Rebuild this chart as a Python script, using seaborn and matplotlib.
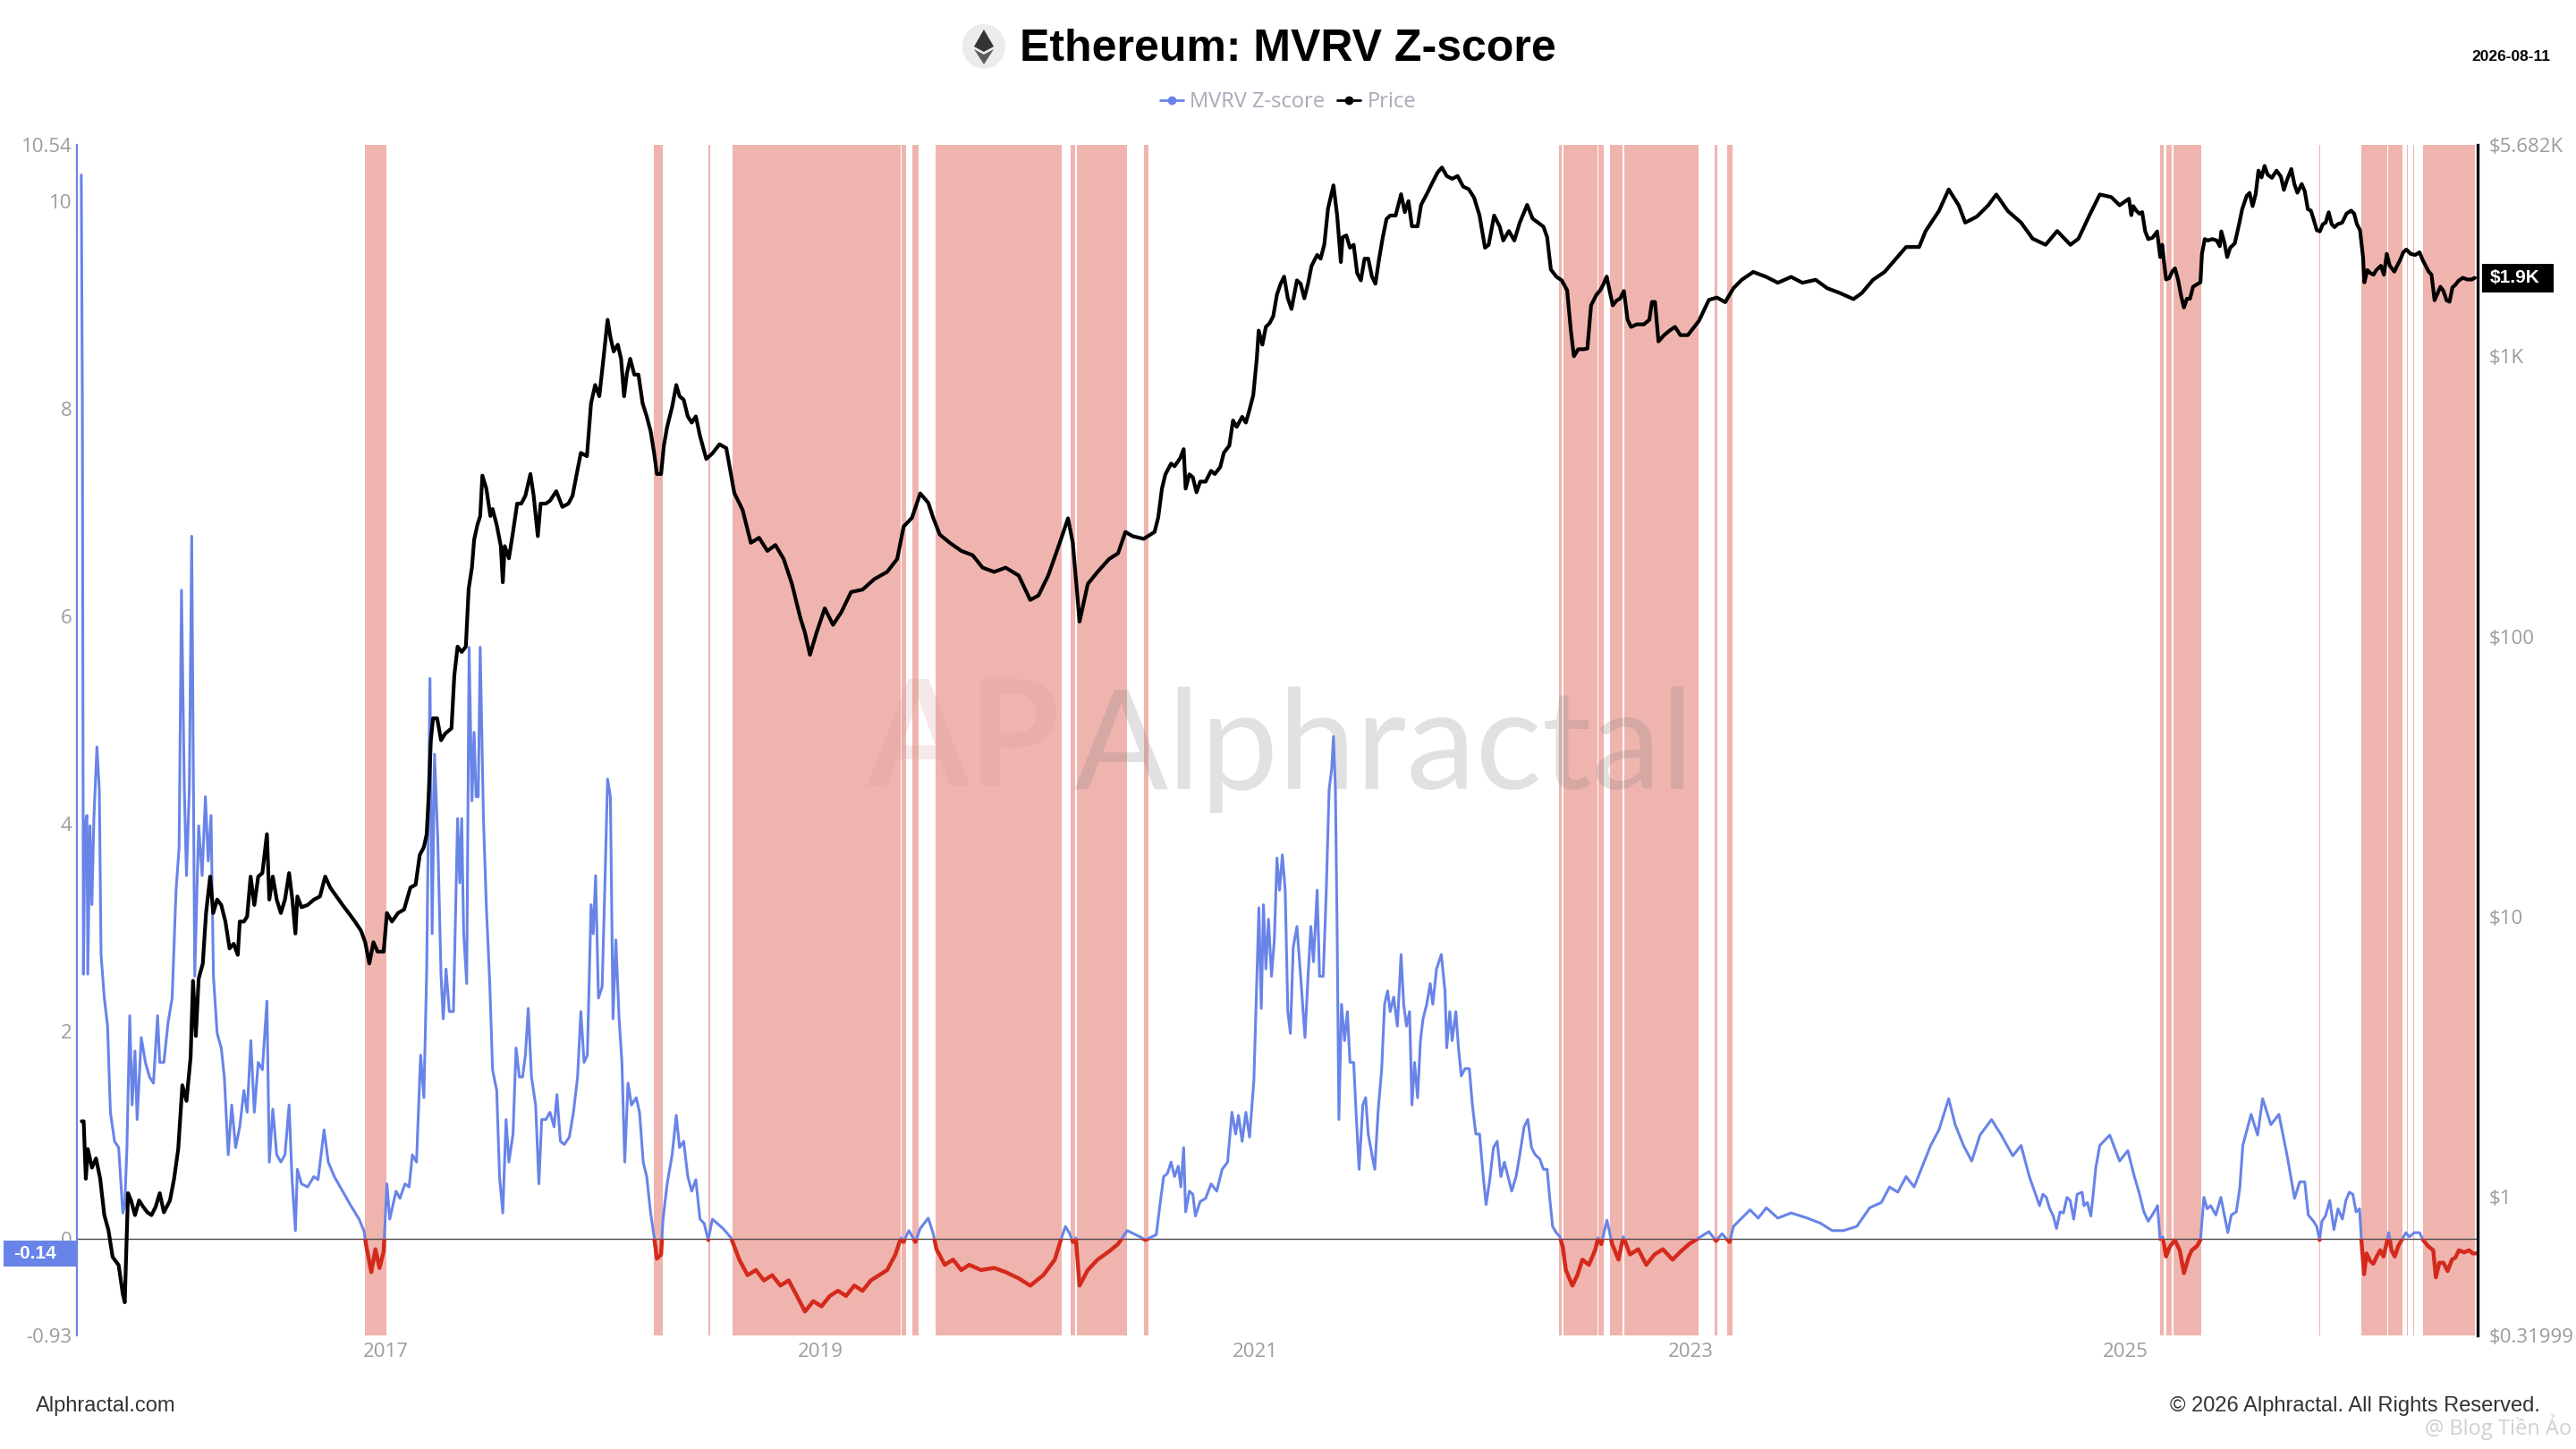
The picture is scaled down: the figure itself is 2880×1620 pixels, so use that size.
import numpy as np
import pandas as pd
import matplotlib
matplotlib.use("Agg")
import matplotlib.pyplot as plt
import seaborn as sns
from matplotlib.lines import Line2D
from matplotlib.patches import Rectangle, Ellipse, Polygon
from matplotlib.ticker import NullLocator

# MVRV Z-score (decimal year, value)
mvrv_year = [
    2015.598, 2015.603, 2015.608, 2015.615, 2015.624, 2015.628, 2015.638, 2015.647, 2015.656, 2015.670,
    2015.681, 2015.689, 2015.704, 2015.719, 2015.732, 2015.751, 2015.770, 2015.789, 2015.798, 2015.808,
    2015.821, 2015.832, 2015.845, 2015.855, 2015.874, 2015.893, 2015.912, 2015.930, 2015.949, 2015.959,
    2015.978, 2015.997, 2016.016, 2016.034, 2016.048, 2016.059, 2016.072, 2016.082, 2016.095, 2016.106,
    2016.120, 2016.138, 2016.154, 2016.169, 2016.182, 2016.195, 2016.206, 2016.223, 2016.242, 2016.256,
    2016.274, 2016.290, 2016.308, 2016.327, 2016.346, 2016.361, 2016.378, 2016.394, 2016.412, 2016.431,
    2016.452, 2016.463, 2016.479, 2016.497, 2016.516, 2016.535, 2016.554, 2016.567, 2016.583, 2016.592,
    2016.611, 2016.639, 2016.668, 2016.687, 2016.715, 2016.734, 2016.762, 2016.800, 2016.838, 2016.876,
    2016.898, 2016.910, 2016.932, 2016.951, 2016.970, 2016.989, 2017.004,
    2017.017, 2017.046, 2017.064, 2017.087, 2017.106, 2017.121, 2017.140, 2017.159, 2017.174, 2017.187,
    2017.202, 2017.212, 2017.223, 2017.238, 2017.253, 2017.263, 2017.276, 2017.291, 2017.310, 2017.329,
    2017.339, 2017.348, 2017.357, 2017.371, 2017.382, 2017.395, 2017.405, 2017.414, 2017.424, 2017.433,
    2017.448, 2017.461, 2017.477, 2017.490, 2017.509, 2017.522, 2017.537, 2017.552, 2017.565, 2017.584,
    2017.598, 2017.613, 2017.628, 2017.641, 2017.654, 2017.669, 2017.688, 2017.703, 2017.716, 2017.735,
    2017.754, 2017.773, 2017.786, 2017.802, 2017.820, 2017.843, 2017.862, 2017.881, 2017.896, 2017.911,
    2017.926, 2017.943, 2017.953, 2017.964, 2017.977, 2017.994, 2018.006, 2018.019, 2018.032, 2018.044,
    2018.057, 2018.072, 2018.085, 2018.098, 2018.113, 2018.129, 2018.151, 2018.166, 2018.183, 2018.199,
    2018.217, 2018.233, 2018.246, 2018.265, 2018.274, 2018.293, 2018.316, 2018.335, 2018.350, 2018.369,
    2018.388, 2018.406, 2018.425, 2018.444, 2018.463, 2018.482, 2018.501,
    2018.550, 2018.587, 2018.625, 2018.663, 2018.701, 2018.738, 2018.776, 2018.814, 2018.852, 2018.890,
    2018.927, 2018.965, 2019.003, 2019.041, 2019.079, 2019.116, 2019.154, 2019.192, 2019.230, 2019.268,
    2019.305, 2019.343, 2019.362, 2019.369, 2019.380, 2019.405, 2019.435, 2019.457, 2019.494, 2019.517,
    2019.532, 2019.570, 2019.608, 2019.646, 2019.683, 2019.736, 2019.797, 2019.850, 2019.910, 2019.963,
    2020.023, 2020.076, 2020.104, 2020.125, 2020.145, 2020.160, 2020.173, 2020.190, 2020.228, 2020.273,
    2020.326, 2020.367,
    2020.409, 2020.468, 2020.493, 2020.543, 2020.560, 2020.577, 2020.594, 2020.611, 2020.627, 2020.644,
    2020.656, 2020.669, 2020.678, 2020.695, 2020.711, 2020.723, 2020.745, 2020.770, 2020.795, 2020.821,
    2020.846, 2020.871, 2020.891, 2020.908, 2020.921, 2020.938, 2020.955, 2020.972, 2020.992, 2021.005,
    2021.015, 2021.026, 2021.036, 2021.047, 2021.059, 2021.073, 2021.086, 2021.098, 2021.110, 2021.123,
    2021.136, 2021.148, 2021.160, 2021.173, 2021.190, 2021.207, 2021.227, 2021.241, 2021.254, 2021.266,
    2021.283, 2021.294, 2021.311, 2021.325, 2021.338, 2021.350, 2021.358, 2021.367, 2021.375, 2021.383,
    2021.395, 2021.409, 2021.422, 2021.434, 2021.451, 2021.462, 2021.476, 2021.493, 2021.506, 2021.518,
    2021.535, 2021.548, 2021.563, 2021.580, 2021.593, 2021.607, 2021.619, 2021.635, 2021.652, 2021.669,
    2021.681, 2021.694, 2021.708, 2021.719, 2021.731, 2021.745, 2021.758, 2021.770, 2021.787, 2021.803,
    2021.815, 2021.832, 2021.854, 2021.871, 2021.879, 2021.893, 2021.904, 2021.921, 2021.933, 2021.946,
    2021.963, 2021.983, 2021.997, 2022.013, 2022.030, 2022.047, 2022.060, 2022.077, 2022.094, 2022.111,
    2022.128, 2022.144, 2022.161, 2022.178, 2022.198, 2022.215, 2022.235, 2022.252, 2022.269, 2022.286,
    2022.307, 2022.324, 2022.341, 2022.353, 2022.366, 2022.383, 2022.400,
    2022.413, 2022.427, 2022.457, 2022.480, 2022.503, 2022.533, 2022.563, 2022.575, 2022.590, 2022.616,
    2022.640, 2022.669, 2022.691, 2022.722, 2022.760, 2022.797, 2022.835, 2022.873, 2022.918, 2022.956,
    2022.994, 2023.039, 2023.085, 2023.118, 2023.145, 2023.180, 2023.198, 2023.236, 2023.274, 2023.312,
    2023.349, 2023.402, 2023.463, 2023.538, 2023.599, 2023.652, 2023.704, 2023.765, 2023.825, 2023.878,
    2023.916, 2023.954, 2023.992, 2024.029, 2024.067, 2024.105, 2024.143, 2024.188, 2024.218, 2024.256,
    2024.294, 2024.332, 2024.385, 2024.430, 2024.483, 2024.521, 2024.559,
    2024.606, 2024.621, 2024.637, 2024.653, 2024.669, 2024.684, 2024.700, 2024.716, 2024.732, 2024.747,
    2024.763, 2024.779, 2024.802, 2024.810, 2024.826, 2024.842, 2024.854, 2024.865, 2024.883, 2024.929,
    2024.974, 2025.012, 2025.042, 2025.062, 2025.086, 2025.106, 2025.133, 2025.149, 2025.160, 2025.173,
    2025.188, 2025.204, 2025.228, 2025.251, 2025.270, 2025.291, 2025.306, 2025.330, 2025.346, 2025.362,
    2025.377, 2025.393, 2025.417, 2025.440, 2025.456, 2025.472, 2025.488, 2025.511, 2025.527, 2025.541,
    2025.579, 2025.609, 2025.632, 2025.670, 2025.707, 2025.745, 2025.779, 2025.803, 2025.826, 2025.842,
    2025.866, 2025.881, 2025.894, 2025.905, 2025.921, 2025.941, 2025.960, 2025.979, 2025.999, 2026.015,
    2026.031, 2026.047, 2026.062, 2026.078, 2026.086, 2026.099, 2026.110, 2026.126, 2026.141, 2026.157,
    2026.173, 2026.188, 2026.204, 2026.212, 2026.225, 2026.240, 2026.256, 2026.272, 2026.291, 2026.307,
    2026.330, 2026.354, 2026.370, 2026.393, 2026.417, 2026.429, 2026.445, 2026.464, 2026.483, 2026.503,
    2026.519, 2026.535, 2026.559, 2026.582, 2026.598, 2026.611,
]
mvrv_value = [
    10.25, 8.10, 2.55, 4.00, 4.08, 2.55, 3.98, 3.22, 4.05, 4.74,
    4.33, 2.74, 2.32, 2.05, 1.22, 0.94, 0.88, 0.25, 0.32, 0.88,
    2.15, 1.29, 1.81, 1.15, 1.94, 1.70, 1.56, 1.50, 2.15, 1.70,
    1.70, 2.08, 2.32, 3.36, 3.77, 6.25, 4.33, 3.50, 4.33, 6.77,
    2.53, 3.98, 3.50, 4.26, 3.64, 4.08, 2.53, 1.98, 1.84, 1.56,
    0.81, 1.29, 0.88, 1.08, 1.43, 1.22, 1.91, 1.22, 1.70, 1.63,
    2.29, 0.74, 1.25, 0.81, 0.74, 0.81, 1.29, 0.60, 0.08, 0.67,
    0.53, 0.50, 0.60, 0.57, 1.05, 0.74, 0.60, 0.46, 0.32, 0.19,
    0.08, -0.08, -0.32, -0.10, -0.28, -0.12, 0.53,
    0.19, 0.46, 0.39, 0.53, 0.50, 0.81, 0.74, 1.77, 1.36, 2.60,
    5.40, 2.94, 4.67, 3.84, 2.53, 2.12, 2.60, 2.19, 2.19, 4.05,
    3.43, 4.05, 2.94, 2.46, 5.70, 4.22, 4.88, 4.26, 4.26, 5.70,
    4.05, 3.22, 2.46, 1.63, 1.43, 0.60, 0.25, 1.15, 0.74, 1.01,
    1.84, 1.56, 1.56, 1.77, 2.22, 1.56, 1.29, 0.53, 1.15, 1.15,
    1.22, 1.08, 1.39, 0.94, 0.91, 0.98, 1.22, 1.56, 2.19, 1.70,
    1.77, 3.22, 2.94, 3.50, 2.32, 2.43, 3.36, 4.43, 4.26, 2.12,
    2.88, 2.12, 1.70, 0.74, 1.50, 1.29, 1.36, 1.22, 0.74, 0.60,
    0.25, 0.02, -0.19, -0.15, 0.19, 0.53, 0.81, 1.19, 0.88, 0.94,
    0.60, 0.46, 0.57, 0.19, 0.15, -0.01, 0.19,
    0.10, 0.01, -0.20, -0.35, -0.30, -0.40, -0.35, -0.45, -0.40, -0.55,
    -0.70, -0.60, -0.65, -0.55, -0.50, -0.55, -0.45, -0.50, -0.40, -0.35,
    -0.30, -0.15, -0.03, 0.01, -0.03, 0.08, -0.03, 0.10, 0.20, 0.05,
    -0.10, -0.25, -0.20, -0.30, -0.25, -0.30, -0.28, -0.32, -0.38, -0.45,
    -0.35, -0.20, -0.01, 0.12, 0.05, -0.03, 0.01, -0.45, -0.30, -0.20,
    -0.12, -0.05,
    0.08, 0.02, -0.01, 0.04, 0.33, 0.60, 0.63, 0.74, 0.60, 0.70,
    0.50, 0.88, 0.26, 0.46, 0.43, 0.22, 0.36, 0.39, 0.53, 0.46,
    0.67, 0.74, 1.22, 1.01, 1.19, 0.94, 1.22, 0.98, 1.53, 2.46,
    3.19, 2.22, 3.22, 2.60, 3.08, 2.53, 2.88, 3.67, 3.36, 3.70,
    3.36, 2.19, 1.98, 2.81, 3.01, 2.53, 1.94, 2.53, 3.01, 2.67,
    3.36, 2.53, 2.53, 3.36, 4.33, 4.53, 4.84, 4.33, 2.94, 1.15,
    2.26, 1.91, 2.19, 1.70, 1.70, 1.22, 0.67, 1.29, 1.36, 1.01,
    0.81, 0.67, 1.22, 1.64, 2.26, 2.39, 2.19, 2.33, 2.05, 2.74,
    2.26, 2.05, 2.19, 1.29, 1.70, 1.36, 1.91, 2.12, 2.26, 2.46,
    2.26, 2.60, 2.74, 2.39, 1.84, 2.19, 1.91, 2.19, 1.84, 1.57,
    1.64, 1.64, 1.29, 1.01, 1.01, 0.60, 0.33, 0.57, 0.88, 0.94,
    0.60, 0.74, 0.60, 0.46, 0.60, 0.81, 1.08, 1.15, 0.88, 0.81,
    0.77, 0.67, 0.67, 0.39, 0.12, 0.06, 0.02,
    -0.08, -0.30, -0.45, -0.35, -0.20, -0.25, -0.10, 0.01, -0.05, 0.18,
    -0.05, -0.20, 0.02, -0.15, -0.10, -0.25, -0.15, -0.10, -0.20, -0.12,
    -0.05, 0.01, 0.07, -0.02, 0.05, -0.03, 0.12, 0.20, 0.28, 0.20,
    0.30, 0.20, 0.25, 0.20, 0.15, 0.08, 0.08, 0.12, 0.30, 0.35,
    0.50, 0.45, 0.60, 0.50, 0.70, 0.90, 1.05, 1.35, 1.10, 0.90,
    0.75, 1.00, 1.15, 1.00, 0.80, 0.90, 0.60,
    0.32, 0.43, 0.40, 0.29, 0.22, 0.10, 0.26, 0.25, 0.40, 0.37,
    0.19, 0.43, 0.45, 0.32, 0.35, 0.22, 0.46, 0.69, 0.90, 1.00,
    0.75, 0.85, 0.60, 0.46, 0.26, 0.17, 0.26, 0.32, 0.00, 0.02,
    -0.17, -0.08, -0.01, -0.11, -0.33, -0.18, -0.11, -0.07, -0.01, 0.40,
    0.29, 0.32, 0.23, 0.40, 0.23, 0.06, 0.23, 0.26, 0.49, 0.90,
    1.20, 1.00, 1.35, 1.10, 1.20, 0.80, 0.39, 0.55, 0.55, 0.23,
    0.17, 0.12, -0.01, 0.17, 0.22, 0.37, 0.09, 0.29, 0.19, 0.37,
    0.45, 0.43, 0.26, 0.29, 0.00, -0.34, -0.14, -0.21, -0.24, -0.17,
    -0.11, -0.17, -0.03, 0.06, -0.11, -0.17, -0.07, -0.01, 0.06, 0.02,
    0.06, 0.06, -0.01, -0.07, -0.11, -0.37, -0.23, -0.23, -0.31, -0.20,
    -0.18, -0.11, -0.13, -0.11, -0.14, -0.14,
]

# ETH price in USD (decimal year, value)
price_year = [
    2015.600, 2015.609, 2015.619, 2015.628, 2015.647, 2015.666, 2015.685, 2015.704, 2015.723, 2015.742,
    2015.770, 2015.789, 2015.798, 2015.813, 2015.827, 2015.845, 2015.864, 2015.883, 2015.902, 2015.921,
    2015.940, 2015.959, 2015.978, 2016.006, 2016.025, 2016.044, 2016.063, 2016.082, 2016.101, 2016.112,
    2016.125, 2016.138, 2016.157, 2016.172, 2016.191, 2016.205, 2016.223, 2016.242, 2016.261, 2016.280,
    2016.299, 2016.318, 2016.327, 2016.346, 2016.361, 2016.377, 2016.394, 2016.412, 2016.431, 2016.452,
    2016.463, 2016.479, 2016.497, 2016.516, 2016.535, 2016.554, 2016.569, 2016.583, 2016.592, 2016.611,
    2016.639, 2016.668, 2016.696, 2016.720, 2016.743, 2016.772, 2016.800, 2016.828, 2016.857, 2016.885,
    2016.904, 2016.923, 2016.942, 2016.961, 2016.989, 2017.004, 2017.027, 2017.055, 2017.083, 2017.112,
    2017.136, 2017.155, 2017.174, 2017.187, 2017.197, 2017.206, 2017.216, 2017.235, 2017.253, 2017.272,
    2017.301, 2017.314, 2017.329, 2017.348, 2017.367, 2017.380, 2017.395, 2017.405, 2017.420, 2017.433,
    2017.443, 2017.461, 2017.480, 2017.490, 2017.509, 2017.528, 2017.537, 2017.546, 2017.565, 2017.584,
    2017.603, 2017.622, 2017.641, 2017.664, 2017.679, 2017.698, 2017.711, 2017.735, 2017.754, 2017.783,
    2017.811, 2017.839, 2017.858, 2017.877, 2017.896, 2017.924, 2017.943, 2017.962, 2017.981, 2018.000,
    2018.019, 2018.032, 2018.047, 2018.066, 2018.081, 2018.095, 2018.108, 2018.123, 2018.142, 2018.161,
    2018.180, 2018.199, 2018.217, 2018.233, 2018.246, 2018.265, 2018.278, 2018.293, 2018.316, 2018.335,
    2018.350, 2018.369, 2018.388, 2018.406, 2018.425, 2018.444, 2018.473, 2018.501,
    2018.534, 2018.565, 2018.602, 2018.640, 2018.678, 2018.716, 2018.754, 2018.791, 2018.829, 2018.867,
    2018.905, 2018.927, 2018.950, 2018.980, 2019.018, 2019.056, 2019.094, 2019.139, 2019.192, 2019.245,
    2019.305, 2019.351, 2019.381, 2019.419, 2019.457, 2019.494, 2019.517, 2019.547, 2019.593, 2019.646,
    2019.698, 2019.744, 2019.797, 2019.850, 2019.910, 2019.963, 2020.001, 2020.046, 2020.099, 2020.137,
    2020.159, 2020.190, 2020.228, 2020.273, 2020.326,
    2020.367, 2020.401, 2020.434, 2020.485, 2020.535, 2020.552, 2020.569, 2020.585, 2020.611, 2020.627,
    2020.653, 2020.669, 2020.678, 2020.695, 2020.711, 2020.728, 2020.745, 2020.770, 2020.795, 2020.812,
    2020.837, 2020.854, 2020.879, 2020.896, 2020.913, 2020.938, 2020.955, 2020.972, 2020.989, 2021.005,
    2021.014, 2021.031, 2021.047, 2021.064, 2021.081, 2021.098, 2021.115, 2021.131, 2021.148, 2021.165,
    2021.190, 2021.207, 2021.224, 2021.241, 2021.257, 2021.283, 2021.299, 2021.316, 2021.333, 2021.358,
    2021.375, 2021.392, 2021.400, 2021.417, 2021.434, 2021.451, 2021.467, 2021.484, 2021.501, 2021.518,
    2021.535, 2021.551, 2021.568, 2021.585, 2021.602, 2021.619, 2021.644, 2021.669, 2021.686, 2021.703,
    2021.719, 2021.745, 2021.761, 2021.787, 2021.812, 2021.837, 2021.857, 2021.879, 2021.904, 2021.929,
    2021.955, 2021.980, 2022.005, 2022.030, 2022.055, 2022.072, 2022.097, 2022.123, 2022.139, 2022.165,
    2022.190, 2022.215, 2022.249, 2022.274, 2022.299, 2022.324, 2022.341, 2022.358, 2022.383, 2022.408,
    2022.433, 2022.450, 2022.464, 2022.484, 2022.509, 2022.526, 2022.543, 2022.568, 2022.585, 2022.601,
    2022.615, 2022.632, 2022.643, 2022.660, 2022.677, 2022.694, 2022.711, 2022.727, 2022.753, 2022.786,
    2022.811, 2022.823, 2022.837, 2022.853, 2022.879, 2022.904, 2022.929, 2022.954, 2022.988,
    2023.039, 2023.085, 2023.122, 2023.160, 2023.198, 2023.236, 2023.289, 2023.349, 2023.402, 2023.463,
    2023.515, 2023.576, 2023.629, 2023.689, 2023.750, 2023.788, 2023.840, 2023.893, 2023.939, 2023.992,
    2024.052, 2024.082, 2024.143, 2024.188, 2024.234, 2024.264, 2024.317, 2024.370, 2024.407, 2024.460,
    2024.521, 2024.574, 2024.634, 2024.687, 2024.748, 2024.785, 2024.838, 2024.883, 2024.936, 2024.974,
    2025.017, 2025.028, 2025.037, 2025.051, 2025.065, 2025.078, 2025.092, 2025.106, 2025.126, 2025.147,
    2025.154, 2025.161, 2025.170, 2025.179, 2025.188, 2025.202, 2025.216, 2025.229, 2025.243, 2025.257,
    2025.270, 2025.284, 2025.298, 2025.312, 2025.332, 2025.346, 2025.353, 2025.366, 2025.380, 2025.401,
    2025.421, 2025.435, 2025.442, 2025.456, 2025.469, 2025.483, 2025.504, 2025.524, 2025.538, 2025.559,
    2025.572, 2025.586, 2025.600, 2025.613, 2025.627, 2025.641, 2025.655, 2025.675, 2025.696, 2025.716,
    2025.730, 2025.744, 2025.764, 2025.778, 2025.792, 2025.812, 2025.826, 2025.840, 2025.854, 2025.867,
    2025.881, 2025.895, 2025.909, 2025.922, 2025.936, 2025.950, 2025.963, 2025.977, 2025.998, 2026.018,
    2026.039, 2026.053, 2026.066, 2026.080, 2026.094, 2026.100, 2026.114, 2026.128, 2026.142, 2026.155,
    2026.176, 2026.190, 2026.203, 2026.217, 2026.238, 2026.251, 2026.265, 2026.279, 2026.293, 2026.313,
    2026.334, 2026.354, 2026.368, 2026.382, 2026.396, 2026.409, 2026.423, 2026.437, 2026.450, 2026.464,
    2026.478, 2026.492, 2026.505, 2026.519, 2026.533, 2026.553, 2026.574, 2026.594, 2026.608,
]
price_value = [
    1.86, 1.86, 1.16, 1.48, 1.27, 1.37, 1.16, 0.86, 0.76, 0.61,
    0.57, 0.45, 0.42, 1.03, 0.97, 0.86, 0.97, 0.92, 0.88, 0.86,
    0.92, 1.03, 0.88, 0.97, 1.16, 1.48, 2.5, 2.2, 3.15, 5.9,
    3.75, 6.0, 6.8, 10.3, 13.9, 10.3, 11.5, 11.0, 9.6, 7.7,
    8.0, 7.3, 9.6, 9.6, 10.0, 13.9, 11.0, 13.9, 14.3, 19.7,
    11.5, 13.9, 11.5, 10.3, 11.5, 14.3, 11.5, 8.7, 11.8, 10.8,
    11.0, 11.5, 11.8, 13.9, 12.7, 11.8, 11.0, 10.3, 9.6, 8.9,
    8.1, 6.8, 8.1, 7.5, 7.5, 10.3, 9.6, 10.3, 10.6, 12.7,
    13.0, 16.6, 17.7, 19.7, 28, 42.6, 51, 51, 42.6, 45,
    47, 72.6, 92, 88, 92, 148, 176, 221, 250, 269,
    375, 338, 269, 285, 250, 210, 156, 210, 190, 236,
    298, 298, 318, 380, 318, 228, 298, 298, 305, 330,
    290, 298, 318, 380, 452, 440, 680, 790, 720, 980,
    1350, 1170, 1040, 1100, 980, 720, 870, 980, 860, 860,
    680, 610, 540, 452, 380, 380, 480, 560, 660, 790,
    720, 700, 610, 580, 610, 520, 430, 450,
    485, 470, 325, 283, 216, 225, 202, 212, 189, 154,
    117, 103, 86, 103, 126, 110, 122, 144, 147, 160,
    170, 189, 247, 265, 324, 300, 265, 231, 216, 202,
    195, 176, 170, 176, 165, 135, 140, 165, 216, 264,
    216, 113, 154, 170, 189,
    198, 236, 228, 223, 236, 266, 337, 379, 414, 405,
    433, 466, 337, 379, 370, 327, 357, 357, 390, 380,
    402, 453, 480, 590, 560, 608, 580, 645, 726, 975,
    1235, 1100, 1273, 1312, 1390, 1660, 1815, 1925, 1610, 1475,
    1866, 1815, 1610, 1815, 2100, 2300, 2230, 2510, 3370, 4075,
    3180, 2170, 2660, 2700, 2440, 2500, 1980, 1866, 2230, 2230,
    1925, 1815, 2230, 2660, 3090, 3180, 3180, 3790, 3270, 3580,
    2910, 2910, 3470, 3790, 4150, 4530, 4720, 4400, 4300, 4400,
    4030, 3950, 3680, 3180, 2440, 2500, 3180, 2900, 2590, 2800,
    2590, 3000, 3470, 3100, 3000, 2900, 2660, 2040, 1925, 1866,
    1720, 1235, 1000, 1060, 1060, 1066, 1520, 1660, 1720, 1815,
    1925, 1660, 1520, 1580, 1610, 1710, 1350, 1273, 1300, 1300,
    1350, 1563, 1563, 1130, 1190, 1235, 1273, 1190, 1190,
    1337, 1590, 1620, 1560, 1750, 1875, 2000, 1920, 1830, 1920,
    1830, 1875, 1750, 1680, 1600, 1680, 1875, 2000, 2200, 2455,
    2455, 2800, 3300, 3940, 3460, 3000, 3150, 3460, 3780, 3300,
    3000, 2630, 2500, 2800, 2500, 2630, 3215, 3780, 3700, 3460,
    3650, 3190, 3435, 3310, 3230, 3270, 2790, 2620, 2650, 2790,
    2500, 2260, 2500, 2155, 1880, 1900, 2005, 2060, 1880, 1645,
    1493, 1605, 1605, 1770, 1810, 1836, 2320, 2620, 2590, 2620,
    2590, 2470, 2790, 2550, 2260, 2440, 2530, 2965, 3350, 3740,
    3830, 3435, 3790, 4600, 4350, 4780, 4450, 4335, 4600, 4380,
    3925, 4250, 4660, 4120, 3835, 4120, 3880, 3350, 3310, 3075,
    2820, 2790, 2960, 3000, 3265, 2960, 2890, 2960, 3000, 3230,
    3310, 3230, 2960, 2820, 2260, 1836, 2030, 1980, 1955, 2030,
    2105, 1955, 2320, 2105, 2005, 2105, 2210, 2350, 2405, 2320,
    2300, 2350, 2210, 2105, 2005, 1955, 1585, 1680, 1770, 1710,
    1585, 1565, 1760, 1800, 1860, 1905, 1880, 1880, 1905,
]

# periods with MVRV Z-score below zero (shaded)
band_start = [2016.903, 2018.231, 2018.483, 2018.594, 2019.371, 2019.420, 2019.528, 2020.151, 2020.178,
              2020.486, 2022.395, 2022.416, 2022.577, 2022.630, 2022.696, 2023.112, 2023.169, 2025.161,
              2025.189, 2025.222, 2025.891, 2026.087, 2026.210, 2026.298, 2026.323, 2026.370]
band_end = [2017.001, 2018.273, 2018.491, 2019.367, 2019.392, 2019.449, 2020.108, 2020.169, 2020.408,
            2020.509, 2022.408, 2022.573, 2022.601, 2022.687, 2023.037, 2023.124, 2023.194, 2025.177,
            2025.214, 2025.350, 2025.895, 2026.206, 2026.276, 2026.302, 2026.327, 2026.609]

xtick_years = [2017, 2019, 2021, 2023, 2025]
z_ticks = [-0.93, 0, 2, 4, 6, 8, 10, 10.54]
z_labels = ["-0.93", "0", "2", "4", "6", "8", "10", "10.54"]
price_ticks = [0.31999, 1, 10, 100, 1000, 5682]
price_labels = ["$0.31999", "$1", "$10", "$100", "$1K", "$5.682K"]

BLUE = "#6884e8"
RED = "#d42a1c"
BAND = "#f0b4ae"
GREY = "#9c9c9c"

sns.set_theme(style="white")
plt.rcParams["font.family"] = ["Open Sans", "DejaVu Sans"]

W, H = 2880, 1620
fig = plt.figure(figsize=(W / 100, H / 100), dpi=100)
ax = fig.add_axes([86 / W, 1 - 1493 / H, (2770 - 86) / W, (1493 - 162) / H])
ax2 = ax.twinx()

x0, x1 = 2015.578, 2026.621

# shaded regions
for s, e in zip(band_start, band_end):
    ax.axvspan(s, e, color=BAND, lw=0, zorder=0)
ax.axhline(0, color="#4a4a4a", lw=1.0, zorder=1.5)

# watermark
ax.text(1547 / W, 1 - 838 / H, "Alphractal", transform=fig.transFigure, ha="center", va="center",
        fontsize=112, family="Lato", color="#888888", alpha=0.25, zorder=1)
ax.text(1078 / W, 1 - 830 / H, "AP", transform=fig.transFigure, ha="center", va="center",
        fontsize=118, family="Lato", fontweight="bold", color="#d49a9a", alpha=0.22, zorder=1)

# MVRV line: blue above zero, red below
mvrv = pd.DataFrame({"year": mvrv_year, "z": mvrv_value})
sns.lineplot(data=mvrv, x="year", y="z", ax=ax, color=BLUE, lw=2.2, errorbar=None, zorder=3)
pos_line = ax.lines[-1]
sns.lineplot(data=mvrv, x="year", y="z", ax=ax, color=RED, lw=3.2, errorbar=None, zorder=3)
neg_line = ax.lines[-1]
pos_line.set_clip_path(Rectangle((x0, 0), x1 - x0, 20, transform=ax.transData))
neg_line.set_clip_path(Rectangle((x0, -5), x1 - x0, 5, transform=ax.transData))

# price line
price = pd.DataFrame({"year": price_year, "usd": price_value})
sns.lineplot(data=price, x="year", y="usd", ax=ax2, color="black", lw=3.0, errorbar=None)
ax2.set_yscale("log")

ax.set_xlim(x0, x1)
ax.set_ylim(-0.93, 10.54)
ax2.set_ylim(0.31999, 5682)

ax.set_xticks(xtick_years)
ax.set_xticklabels([str(y) for y in xtick_years])
ax.set_yticks(z_ticks)
ax.set_yticklabels(z_labels)
ax2.set_yticks(price_ticks)
ax2.set_yticklabels(price_labels)
ax2.yaxis.set_minor_locator(NullLocator())
for a in (ax, ax2):
    a.set_xlabel("")
    a.set_ylabel("")
    a.grid(False)
ax.tick_params(axis="x", length=0, pad=6, labelsize=16, labelcolor=GREY)
ax.tick_params(axis="y", length=0, pad=4, labelsize=16, labelcolor=GREY)
ax2.tick_params(axis="y", length=0, pad=9, labelsize=16, labelcolor=GREY)

for side in ("top", "right", "bottom"):
    ax.spines[side].set_visible(False)
ax.spines["left"].set_color(BLUE)
ax.spines["left"].set_linewidth(1.6)
for side in ("top", "left", "bottom"):
    ax2.spines[side].set_visible(False)
ax2.spines["right"].set_color("black")
ax2.spines["right"].set_linewidth(2.4)

# last value boxes
z_last = mvrv_value[-1]
y_px = ax.transData.transform((x1, z_last))[1]
fig.add_artist(Rectangle((4 / W, (y_px - 14.5) / H), 81 / W, 29 / H, transform=fig.transFigure,
                         fc=BLUE, ec="none", zorder=5))
fig.text(15 / W, y_px / H, f"{z_last:.2f}", color="white", fontsize=15, fontweight="bold",
         family="Liberation Sans", ha="left", va="center", zorder=6)

p_last = price_value[-1]
y_px = ax2.transData.transform((x1, p_last))[1]
fig.add_artist(Rectangle((2775 / W, (y_px - 16) / H), 80 / W, 32 / H, transform=fig.transFigure,
                         fc="black", ec="none", zorder=5))
fig.text(2784 / W, y_px / H, f"${p_last / 1000:.1f}K", color="white", fontsize=15, fontweight="bold",
         family="Liberation Sans", ha="left", va="center", zorder=6)

# title with Ethereum logo
fig.text(0.5, 1 - 55 / H, "Ethereum: MVRV Z-score", ha="center", va="center", fontsize=36,
         fontweight="bold", family="Liberation Sans", color="black")
cx, cy = 1100, 52
fig.add_artist(Ellipse((cx / W, 1 - cy / H), 48 / W, 50 / H, transform=fig.transFigure,
                       fc="#ececec", ec="none"))
upper = [(0, 19), (11, 0), (0, -6), (-11, 0)]
lower = [(-11, -3), (0, -9), (11, -3), (0, -20)]
for pts, col in ((upper, "#343434"), (lower, "#5c5c5c")):
    fig.add_artist(Polygon([((cx + dx) / W, 1 - (cy - dy) / H) for dx, dy in pts],
                           closed=True, transform=fig.transFigure, fc=col, ec="none"))

fig.text(2807 / W, 1 - 63 / H, "2026-08-11", ha="center", va="center", fontsize=12.5,
         fontweight="bold", family="Liberation Sans", color="black")

# legend
handles = [Line2D([], [], color=BLUE, marker="o", ms=6, lw=2),
           Line2D([], [], color="black", marker="o", ms=6, lw=2)]
fig.legend(handles, ["MVRV Z-score", "Price"], loc="center", bbox_to_anchor=(0.5, 1 - 114 / H),
           ncol=2, frameon=False, fontsize=17, labelcolor="#a6a9b8", handlelength=1.1,
           handletextpad=0.3, columnspacing=0.6)

# footer
fig.text(40 / W, 1 - 1572 / H, "Alphractal.com", ha="left", va="center", fontsize=17,
         family="Liberation Sans", color="#333333")
fig.text(2840 / W, 1 - 1572 / H, "\u00a9 2026 Alphractal. All Rights Reserved.", ha="right",
         va="center", fontsize=17, family="Liberation Sans", color="#333333")
fig.text(2875 / W, 1 - 1596 / H, "@ Blog Ti\u1ec1n \u1ea2o", ha="right", va="center", fontsize=17,
         family=["Open Sans", "DejaVu Sans"], color="#d0d0d0")

fig.savefig("out.png", dpi=100)
